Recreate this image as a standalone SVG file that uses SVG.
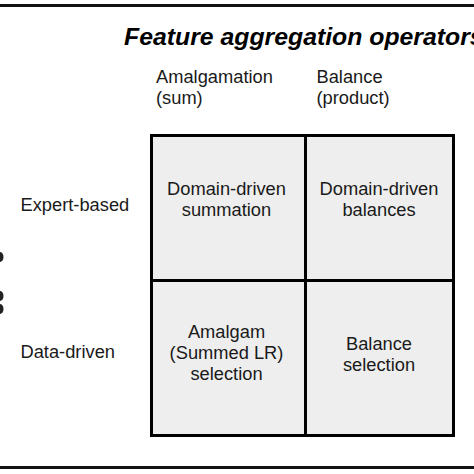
<svg xmlns="http://www.w3.org/2000/svg" width="474" height="474" viewBox="0 0 474 474">
<style>
text{font-family:"Liberation Sans",Arial,sans-serif;fill:#1a1a1a;font-size:18.3px}
.title{font-weight:bold;font-style:italic;font-size:24.8px;fill:#000}
.c{text-anchor:middle}
.cell{fill:#eeeeee;stroke:#000;stroke-width:3}
.rule{stroke:#111;stroke-width:3}
</style>
<rect width="474" height="474" fill="#fff"/>
<line class="rule" x1="0" y1="5.5" x2="474" y2="5.5"/>
<line class="rule" x1="0" y1="467.5" x2="474" y2="467.5"/>
<g id="left-fragments" fill="#222">
<ellipse cx="0" cy="257" rx="3.5" ry="5"/>
<ellipse cx="0" cy="296" rx="3.5" ry="5"/>
<ellipse cx="0" cy="309" rx="3.5" ry="5"/>
</g>
<text class="title" x="124" y="45">Feature aggregation operators</text>
<g id="col-amalgamation"><text x="156" y="83">Amalgamation</text><text x="156" y="104">(sum)</text></g>
<g id="col-balance"><text x="316.5" y="83">Balance</text><text x="316.5" y="104">(product)</text></g>
<g id="row-expert"><text x="20.5" y="211">Expert-based</text></g>
<g id="row-data"><text x="20.5" y="358">Data-driven</text></g>
<g id="cell-dd-sum"><rect class="cell" x="151.5" y="135.5" width="154" height="145"/><text class="c" x="226.5" y="195">Domain-driven</text><text class="c" x="226.5" y="216">summation</text></g>
<g id="cell-dd-bal"><rect class="cell" x="305.5" y="135.5" width="148" height="145"/><text class="c" x="379" y="195">Domain-driven</text><text class="c" x="379" y="216">balances</text></g>
<g id="cell-amalgam"><rect class="cell" x="151.5" y="280.5" width="154" height="155"/><text class="c" x="226.5" y="338">Amalgam</text><text class="c" x="226.5" y="359">(Summed LR)</text><text class="c" x="226.5" y="380">selection</text></g>
<g id="cell-bal-sel"><rect class="cell" x="305.5" y="280.5" width="148" height="155"/><text class="c" x="379" y="350">Balance</text><text class="c" x="379" y="371">selection</text></g>
<g id="connectors"></g>
</svg>
